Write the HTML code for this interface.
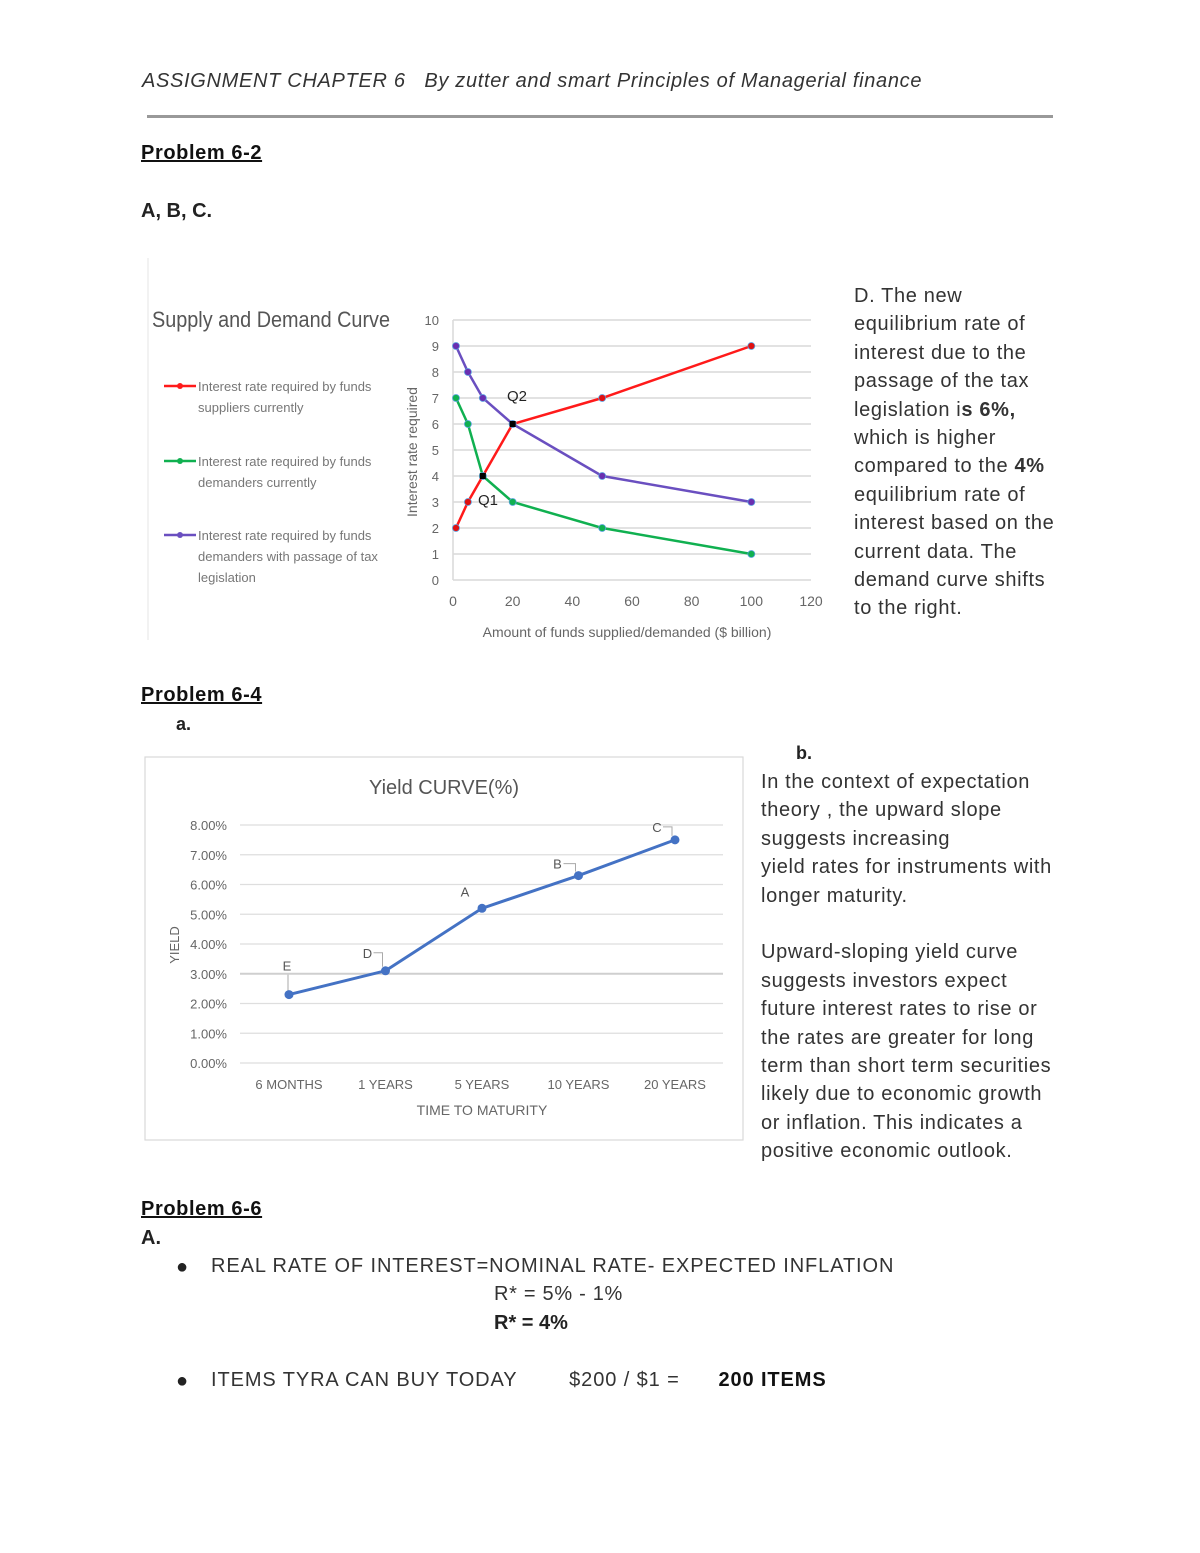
<!DOCTYPE html>
<html><head><meta charset="utf-8"><style>
body{margin:0;width:1200px;height:1553px;background:#fff;position:relative;font-family:"Liberation Sans",sans-serif;color:#222;overflow:hidden}
.a{position:absolute;white-space:nowrap}
.t{font-size:20px;line-height:28.4px;position:absolute;color:#333;letter-spacing:0.65px;white-space:nowrap}
.h{font-weight:bold;text-decoration:underline;font-size:20px;color:#111}
svg text{font-family:"Liberation Sans",sans-serif}
</style></head><body>
<div class="a" style="left:142px;top:70px;font-size:20px;font-style:italic;color:#333;letter-spacing:0.68px">ASSIGNMENT CHAPTER 6&nbsp;&nbsp;&nbsp;By zutter and smart Principles of Managerial finance</div>
<div class="a" style="left:147px;top:115px;width:906px;height:3px;background:#999"></div>
<div class="a h" style="left:141px;top:142px;letter-spacing:0.6px">Problem 6-2</div>
<div class="a" style="left:141px;top:200px;font-size:20px;font-weight:bold">A, B, C.</div>

<svg class="a" style="left:0;top:0" width="1200" height="660" id="c1"></svg>

<div class="t" style="left:854px;top:282px;width:210px">D. The new<br>equilibrium rate of<br>interest due to the<br>passage of the tax<br>legislation i<b>s 6%,</b><br>which is higher<br>compared to the <b>4%</b><br>equilibrium rate of<br>interest based on the<br>current data. The<br>demand curve shifts<br>to the right.</div>

<div class="a h" style="left:141px;top:684px;letter-spacing:0.6px">Problem 6-4</div>
<div class="a" style="left:176px;top:714px;font-size:18px;font-weight:bold">a.</div>
<div class="a" style="left:796px;top:743px;font-size:18px;font-weight:bold">b.</div>
<div class="t" style="left:761px;top:768px;width:300px">In the context of expectation<br>theory , the upward slope<br>suggests increasing<br>yield rates for instruments with<br>longer maturity.<br><br>Upward-sloping yield curve<br>suggests investors expect<br>future interest rates to rise or<br>the rates are greater for long<br>term than short term securities<br>likely due to economic growth<br>or inflation. This indicates a<br>positive economic outlook.</div>

<svg class="a" style="left:0;top:700px" width="760" height="460" id="c2"></svg>

<div class="a h" style="left:141px;top:1198px;letter-spacing:0.6px">Problem 6-6</div>
<div class="a" style="left:141px;top:1227px;font-size:20px;font-weight:bold">A.</div>
<div class="a" style="left:176px;top:1256px;font-size:20px">●</div>
<div class="a" style="left:211px;top:1255px;font-size:20px;color:#333;letter-spacing:0.9px">REAL RATE OF INTEREST=NOMINAL RATE- EXPECTED INFLATION</div>
<div class="a" style="left:494px;top:1283px;font-size:20px;color:#333;letter-spacing:0.7px">R* = 5% - 1%</div>
<div class="a" style="left:494px;top:1312px;font-size:20px;font-weight:bold">R* = 4%</div>
<div class="a" style="left:176px;top:1370px;font-size:20px">●</div>
<div class="a" style="left:211px;top:1369px;font-size:20px;color:#333;letter-spacing:0.9px">ITEMS TYRA CAN BUY TODAY&nbsp;&nbsp;&nbsp;&nbsp;&nbsp;&nbsp;&nbsp;&nbsp;$200 / $1 =&nbsp;&nbsp;&nbsp;&nbsp;&nbsp;&nbsp;<b style="color:#111">200 ITEMS</b></div>

<script>
const NS='http://www.w3.org/2000/svg';
function mk(p,tag,at,txt){const e=document.createElementNS(NS,tag);for(const k in at)e.setAttribute(k,at[k]);if(txt!==undefined)e.textContent=txt;p.appendChild(e);return e;}

// Chart 1 data
const xVals=[1,5,10,20,50,100];
const supplyRates=[2,3,4,6,7,9];
const demandRates=[7,6,4,3,2,1];
const demandTaxRates=[9,8,7,6,4,3];
const xTicks=[0,20,40,60,80,100,120];
const yTicks=[0,1,2,3,4,5,6,7,8,9,10];

const c1=document.getElementById('c1');
const X1=v=>453+v*(811-453)/120;
const Y1=v=>580-v*26;
let e;
e=mk(c1,'line',{x1:148,y1:258,x2:148,y2:640,stroke:'#e4e4e4'});


e=mk(c1,'text',{x:152,y:327,'font-size':22,fill:'#555',textLength:238,lengthAdjust:'spacingAndGlyphs'},'Supply and Demand Curve');


yTicks.forEach(t=>{
  e=mk(c1,'line',{x1:453,x2:811,y1:Y1(t),y2:Y1(t),stroke:'#d9d9d9','stroke-width':1.5});
  
  
  e=mk(c1,'text',{x:439,y:Y1(t)+5,'font-size':13,fill:'#666','text-anchor':'end'},String(t));
  
  
});
e=mk(c1,'line',{x1:453,x2:453,y1:Y1(10),y2:Y1(0),stroke:'#d9d9d9','stroke-width':1.5});


xTicks.forEach(t=>{
  e=mk(c1,'text',{x:X1(t),y:606,'font-size':14,fill:'#666','text-anchor':'middle'},String(t));
  
  
});
e=mk(c1,'text',{x:627,y:637,'font-size':14,fill:'#666','text-anchor':'middle'},'Amount of funds supplied/demanded ($ billion)');


e=mk(c1,'text',{x:0,y:0,'font-size':14,fill:'#666','text-anchor':'middle',transform:'translate(417,452) rotate(-90)'},'Interest rate required');


const series=[[supplyRates,'#ff1a1a','#e01010','supply-current'],[demandRates,'#10b050','#10b050','demand-current'],[demandTaxRates,'#6a4fc0','#6a2fb0','demand-tax']];
series.forEach(([vals,col,mc,nm])=>{
  e=mk(c1,'polyline',{points:xVals.map((x,i)=>X1(x)+','+Y1(vals[i])).join(' '),fill:'none',stroke:col,'stroke-width':2.5});
  
  
  xVals.forEach((x,i)=>{
    e=mk(c1,'circle',{cx:X1(x),cy:Y1(vals[i]),r:3.5,fill:mc,stroke:'#5aa0e0','stroke-width':0.8});
    
    
  });
});
[[10,4],[20,6]].forEach(p=>{
  e=mk(c1,'rect',{x:X1(p[0])-3,y:Y1(p[1])-3,width:6,height:6,fill:'#000'});
  
  
});
e=mk(c1,'text',{x:507,y:401,'font-size':15,fill:'#222'},'Q2');


e=mk(c1,'text',{x:478,y:505,'font-size':15,fill:'#222'},'Q1');


const legendItems=[['Interest rate required by funds','suppliers currently','','#ff1a1a',386],['Interest rate required by funds','demanders currently','','#10b050',461],['Interest rate required by funds','demanders with passage of tax','legislation','#6a4fc0',535]];
legendItems.forEach(([a,b,c,col,y])=>{
  e=mk(c1,'line',{x1:164,x2:196,y1:y,y2:y,stroke:col,'stroke-width':2.5});
  
  
  e=mk(c1,'circle',{cx:180,cy:y,r:3,fill:col});
  
  
  [a,b,c].forEach((s,i)=>{ if(!s)return;
    e=mk(c1,'text',{x:198,y:y+5+i*21,'font-size':13,fill:'#777'},s);
    
    
  });
});

// Chart 2 data
const maturities=['6 MONTHS','1 YEARS','5 YEARS','10 YEARS','20 YEARS'];
const yields=[2.3,3.1,5.2,6.3,7.5];
const pointLabels=['E','D','A','B','C'];
const yieldTicks=[0,1,2,3,4,5,6,7,8];

const c2=document.getElementById('c2');
const X2=i=>289+i*96.5;
const Y2=v=>363-v*29.75;
e=mk(c2,'rect',{x:145,y:57,width:598,height:383,fill:'#fff',stroke:'#d9d9d9','stroke-width':1.2});


e=mk(c2,'text',{x:444,y:94,'font-size':20,fill:'#555','text-anchor':'middle'},'Yield CURVE(%)');


yieldTicks.forEach(t=>{
  e=mk(c2,'line',{x1:240,x2:723,y1:Y2(t),y2:Y2(t),stroke:t===3?'#cfcfcf':'#dedede','stroke-width':t===3?2:1.3});
  
  
  e=mk(c2,'text',{x:227,y:Y2(t)+5,'font-size':13,fill:'#666','text-anchor':'end'},t.toFixed(2)+'%');
  
  
});
maturities.forEach((m,i)=>{
  e=mk(c2,'text',{x:X2(i),y:389,'font-size':13,fill:'#666','text-anchor':'middle'},m);
  
  
});
e=mk(c2,'text',{x:482,y:415,'font-size':14,fill:'#666','text-anchor':'middle'},'TIME TO MATURITY');


e=mk(c2,'text',{x:0,y:0,'font-size':13,fill:'#666','text-anchor':'middle',transform:'translate(179,245) rotate(-90)'},'YIELD');


e=mk(c2,'polyline',{points:yields.map((v,i)=>X2(i)+','+Y2(v)).join(' '),fill:'none',stroke:'#4472c4','stroke-width':3});


// label offsets relative to point (dx, dy, leader?)
const lblOff=[[-2,-24,0],[-18,-13,1],[-17,-12,0],[-21,-7,1],[-18,-8,1]];
yields.forEach((v,i)=>{
  const px=X2(i), py=Y2(v), o=lblOff[i];
  if(i===0){
    e=mk(c2,'line',{x1:px-1,y1:py-4,x2:px-1,y2:py-20,stroke:'#aaa','stroke-width':1});
    
    
  }
  if(o[2]){
    e=mk(c2,'polyline',{points:(px+o[0]+6)+','+(py+o[1]-5)+' '+(px-3)+','+(py+o[1]-5)+' '+(px-3)+','+(py-4),fill:'none',stroke:'#aaa','stroke-width':1});
    
    
  }
  e=mk(c2,'circle',{cx:px,cy:py,r:4.5,fill:'#4472c4'});
  
  
  e=mk(c2,'text',{x:px+o[0],y:py+o[1],'font-size':13,fill:'#555','text-anchor':'middle'},pointLabels[i]);
  
  
});
</script>
</body></html>
